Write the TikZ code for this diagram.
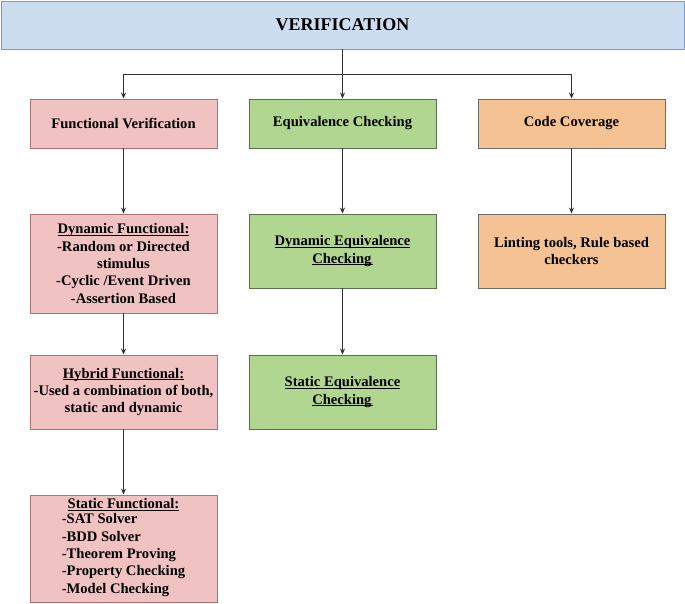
\documentclass[tikz,border=0pt]{standalone}
\usepackage{fontspec}
\setmainfont{Liberation Serif}
\newsavebox{\myulbox}
\newcommand{\myul}[1]{\leavevmode\sbox{\myulbox}{#1}\rlap{\rule[-2pt]{\wd\myulbox}{0.8pt}}\usebox{\myulbox}}
\usetikzlibrary{arrows.meta}
\definecolor{bluefill}{HTML}{CCDDEF}
\definecolor{blueline}{HTML}{7A9CC4}
\definecolor{pinkfill}{HTML}{F1C2C2}
\definecolor{pinkline}{HTML}{B07070}
\definecolor{greenfill}{HTML}{B1D68F}
\definecolor{greenline}{HTML}{5E6E50}
\definecolor{orangefill}{HTML}{F5C293}
\definecolor{orangeline}{HTML}{6E6A66}
\definecolor{arrowc}{HTML}{333333}
\tikzset{
  box/.style={draw, line width=0.9pt, minimum width=187pt, align=center,
    inner sep=1pt, font=\fontsize{14.6}{17.3}\selectfont\bfseries},
  pinkbox/.style={box, fill=pinkfill, draw=pinkline},
  greenbox/.style={box, fill=greenfill, draw=greenline},
  orangebox/.style={box, fill=orangefill, draw=orangeline},
  conn/.style={draw=arrowc, line width=0.8pt, -{Stealth[length=6pt,width=5pt]}}
}
\begin{document}
\begin{tikzpicture}[x=1pt,y=-1pt]
\useasboundingbox (0,0) rectangle (685,603);
\node[draw=blueline, fill=bluefill, line width=0.9pt, minimum width=683pt, minimum height=48pt,
  font=\fontsize{18}{21}\selectfont\bfseries] (top) at (342.5,25) {VERIFICATION};

\node[pinkbox, minimum height=49pt] (fv) at (123.5,123.5) {Functional Verification};
\node[greenbox, minimum height=49pt] (ec) at (342.5,123.5) {Equivalence Checking};
\node[orangebox, minimum height=49pt] (cc) at (571.5,123.5) {Code Coverage};

\node[pinkbox, minimum height=99pt] (df) at (123.5,263.5) {\myul{Dynamic Functional:}\\-Random or Directed\\stimulus\\-Cyclic /Event Driven\\-Assertion Based};
\node[greenbox, minimum height=74pt] (de) at (342.5,251) {\myul{Dynamic Equivalence}\\\myul{Checking{\tiny .}}};
\node[orangebox, minimum height=74pt] (lt) at (571.5,251) {Linting tools, Rule based\\checkers};

\node[pinkbox, minimum height=74pt] (hf) at (123.5,392) {\myul{Hybrid Functional:}\\-Used a combination of both,\\static and dynamic};
\node[greenbox, minimum height=74pt] (se) at (342.5,392) {\myul{Static Equivalence}\\\myul{Checking{\tiny .}}};

\node[pinkbox, minimum height=107pt] (sf) at (123.5,548.5) {\myul{Static Functional:}\\\begin{tabular}{@{}l@{}}-SAT Solver\\-BDD Solver\\-Theorem Proving\\-Property Checking\\-Model Checking\end{tabular}};

\coordinate (j) at (342.5,74);
\draw[conn] (top.south) -- (ec.north);
\draw[conn] (j) -| (fv.north);
\draw[conn] (j) -| (cc.north);
\draw[conn] (fv.south) -- (df.north);
\draw[conn] (df.south) -- (hf.north);
\draw[conn] (hf.south) -- (sf.north);
\draw[conn] (ec.south) -- (de.north);
\draw[conn] (de.south) -- (se.north);
\draw[conn] (cc.south) -- (lt.north);
\end{tikzpicture}
\end{document}
